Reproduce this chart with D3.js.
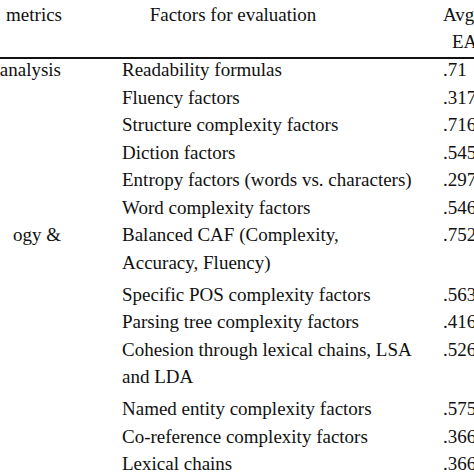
<!DOCTYPE html>
<html><head><meta charset="utf-8">
<script src="https://cdn.jsdelivr.net/npm/d3@7"></script>
<style>body{margin:0;background:#fff}</style>
</head><body><div id="canvas"></div>
<script>
// table contents
const groups = [{ label: "analysis", row: 0 }, { label: "ogy &", row: 6 }];
const factors = [
    ["Readability formulas"],
    ["Fluency factors"],
    ["Structure complexity factors"],
    ["Diction factors"],
    ["Entropy factors (words vs. characters)"],
    ["Word complexity factors"],
    ["Balanced CAF (Complexity,", "Accuracy, Fluency)"],
    ["Specific POS complexity factors"],
    ["Parsing tree complexity factors"],
    ["Cohesion through lexical chains, LSA", "and LDA"],
    ["Named entity complexity factors"],
    ["Co-reference complexity factors"],
    ["Lexical chains"]
];
const avg = [".71", ".317", ".716", ".545", ".297", ".546", ".752", ".563", ".416", ".526", ".575", ".366", ".366"];

const width = 474, height = 474;
const svg = d3.select("#canvas").append("svg").attr("width", width).attr("height", height)
    .style("font-family", "'Liberation Serif', 'Times New Roman', serif")
    .style("font-size", "19px").style("fill", "#111");

// baseline of each row
let y0 = 76;
const rowY = factors.map(f => {
    const y = y0;
    y0 += 27.5 * f.length + (f.length > 1 ? 4.5 : 0);
    return y;
});

// header
svg.append("text").attr("x", 62).attr("y", 21).attr("text-anchor", "end").text("metrics");
svg.append("text").attr("x", 233).attr("y", 21).attr("text-anchor", "middle").text("Factors for evaluation");
svg.append("text").attr("x", 443).attr("y", 21).text("Avg");
svg.append("text").attr("x", 452).attr("y", 48).text("EA");
svg.append("line").attr("x1", 0).attr("x2", width).attr("y1", 58).attr("y2", 58)
    .attr("stroke", "#111").attr("stroke-width", 2);

groups.forEach(g => {
    svg.append("text").attr("x", 61).attr("y", rowY[g.row]).attr("text-anchor", "end").text(g.label);
});

factors.forEach((f, i) => {
    f.forEach((line, j) => {
        svg.append("text").attr("x", j == 0 ? 122 : 122).attr("y", rowY[i] + j * 27.5).text(line);
    });
    svg.append("text").attr("x", 443).attr("y", rowY[i]).text(avg[i]);
});
</script>
</body></html>
